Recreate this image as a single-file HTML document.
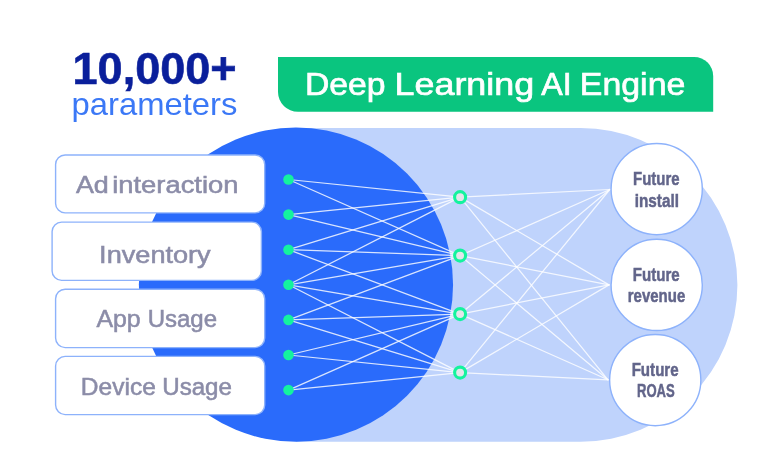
<!DOCTYPE html>
<html lang="en">
<head>
<meta charset="utf-8">
<title>Deep Learning AI Engine</title>
<style>
html,body{margin:0;padding:0;background:#fff;}
body{width:768px;height:473px;overflow:hidden;}
svg{display:block;will-change:transform;}
text{font-family:"Liberation Sans",sans-serif;}
.lbl{font-size:24.3px;fill:#8b8ca8;stroke:#8b8ca8;stroke-width:0.55px;}
.out{font-size:18.9px;font-weight:bold;fill:#62658a;stroke:#62658a;stroke-width:0.5px;}
</style>
</head>
<body>
<svg width="768" height="473" viewBox="0 0 768 473">
<rect width="768" height="473" fill="#ffffff"/>
<!-- light panel -->
<path d="M296 128.1 H580.55 A156.85 156.85 0 0 1 737.4 284.95 A156.85 156.85 0 0 1 580.55 441.8 H296 Z" fill="#bfd3fc"/>
<!-- big blue circle -->
<circle cx="295.95" cy="284.7" r="157.1" fill="#2a6bfb"/>
<!-- green banner -->
<path d="M278 57 H694.2 A19 19 0 0 1 713.2 76 V111.8 H298 A20 20 0 0 1 278 91.8 Z" fill="#0ac57f"/>
<text y="94.5" font-size="31.9" fill="#ffffff" stroke="#ffffff" stroke-width="0.7"><tspan x="305.02" textLength="80.62" lengthAdjust="spacingAndGlyphs">Deep</tspan> <tspan x="394.55" textLength="139.63" lengthAdjust="spacingAndGlyphs">Learning</tspan> <tspan x="541.29" textLength="30.4" lengthAdjust="spacingAndGlyphs">AI</tspan> <tspan x="579.87" textLength="105.46" lengthAdjust="spacingAndGlyphs">Engine</tspan></text>
<!-- heading -->
<text y="83.5" font-size="44.2" font-weight="bold" fill="#0a1f9b" stroke="#0a1f9b" stroke-width="0.6"><tspan x="72.53" textLength="164.12" lengthAdjust="spacingAndGlyphs">10,000+</tspan></text>
<text y="115" font-size="31.2" fill="#3b78f6"><tspan x="71.57" textLength="165.85" lengthAdjust="spacingAndGlyphs">parameters</tspan></text>
<!-- network lines -->
<g stroke="#ffffff" stroke-width="1.25" stroke-opacity="0.82" stroke-linecap="round">
<line x1="288.5" y1="179.5" x2="460.1" y2="197.15"/><line x1="288.5" y1="179.5" x2="460.1" y2="255.6"/><line x1="288.5" y1="214.6" x2="460.1" y2="197.15"/><line x1="288.5" y1="214.6" x2="460.1" y2="255.6"/><line x1="288.5" y1="249.7" x2="460.1" y2="197.15"/><line x1="288.5" y1="249.7" x2="460.1" y2="255.6"/><line x1="288.5" y1="249.7" x2="460.1" y2="314.1"/><line x1="288.5" y1="284.8" x2="460.1" y2="197.15"/><line x1="288.5" y1="284.8" x2="460.1" y2="255.6"/><line x1="288.5" y1="284.8" x2="460.1" y2="314.1"/><line x1="288.5" y1="284.8" x2="460.1" y2="372.6"/><line x1="288.5" y1="319.9" x2="460.1" y2="255.6"/><line x1="288.5" y1="319.9" x2="460.1" y2="314.1"/><line x1="288.5" y1="319.9" x2="460.1" y2="372.6"/><line x1="288.5" y1="355.0" x2="460.1" y2="314.1"/><line x1="288.5" y1="355.0" x2="460.1" y2="372.6"/><line x1="288.5" y1="390.1" x2="460.1" y2="314.1"/><line x1="288.5" y1="390.1" x2="460.1" y2="372.6"/>
</g>
<g stroke="#ffffff" stroke-width="1.25" stroke-opacity="0.8" stroke-linecap="round">
<line x1="460.1" y1="197.15" x2="609.8" y2="189.5"/><line x1="460.1" y1="197.15" x2="609.0" y2="284.9"/><line x1="460.1" y1="197.15" x2="608.0" y2="379.8"/><line x1="460.1" y1="255.6" x2="609.8" y2="189.5"/><line x1="460.1" y1="255.6" x2="609.0" y2="284.9"/><line x1="460.1" y1="255.6" x2="608.0" y2="379.8"/><line x1="460.1" y1="314.1" x2="609.8" y2="189.5"/><line x1="460.1" y1="314.1" x2="609.0" y2="284.9"/><line x1="460.1" y1="314.1" x2="608.0" y2="379.8"/><line x1="460.1" y1="372.6" x2="609.8" y2="189.5"/><line x1="460.1" y1="372.6" x2="609.0" y2="284.9"/><line x1="460.1" y1="372.6" x2="608.0" y2="379.8"/>
</g>
<g fill="#14f39e"><circle cx="288.5" cy="179.5" r="5.3"/><circle cx="288.5" cy="214.6" r="5.3"/><circle cx="288.5" cy="249.7" r="5.3"/><circle cx="288.5" cy="284.8" r="5.3"/><circle cx="288.5" cy="319.9" r="5.3"/><circle cx="288.5" cy="355.0" r="5.3"/><circle cx="288.5" cy="390.1" r="5.3"/></g>
<g fill="#e3e6ea" stroke="#14f39e" stroke-width="3.1"><circle cx="460.1" cy="197.15" r="5.5"/><circle cx="460.1" cy="255.6" r="5.5"/><circle cx="460.1" cy="314.1" r="5.5"/><circle cx="460.1" cy="372.6" r="5.5"/></g>
<!-- label boxes -->
<g fill="#ffffff" stroke="#8db2fb" stroke-width="1.4">
<rect x="55.6" y="155" width="209.1" height="57.9" rx="9.5"/>
<rect x="52.1" y="222.1" width="209.3" height="58.3" rx="9.5"/>
<rect x="55.6" y="289.3" width="209.1" height="58.3" rx="9.5"/>
<rect x="55.6" y="356.4" width="209.1" height="58.2" rx="9.5"/>
</g>
<text y="192.5" class="lbl"><tspan x="75.93" textLength="32.86" lengthAdjust="spacingAndGlyphs">Ad</tspan> <tspan x="112.23" textLength="126.26" lengthAdjust="spacingAndGlyphs">interaction</tspan></text>
<text y="262.5" class="lbl"><tspan x="99.12" textLength="111.59" lengthAdjust="spacingAndGlyphs">Inventory</tspan></text>
<text y="326.6" class="lbl"><tspan x="96.46" textLength="44.24" lengthAdjust="spacingAndGlyphs">App</tspan> <tspan x="147.65" textLength="69.42" lengthAdjust="spacingAndGlyphs">Usage</tspan></text>
<text y="395.3" class="lbl"><tspan x="80.89" textLength="74.93" lengthAdjust="spacingAndGlyphs">Device</tspan> <tspan x="162.21" textLength="69.76" lengthAdjust="spacingAndGlyphs">Usage</tspan></text>
<!-- output circles -->
<g fill="#ffffff" stroke="#8db2fb" stroke-width="1.4">
<circle cx="656.7" cy="189.1" r="45.6"/>
<circle cx="656.7" cy="284.9" r="45.6"/>
<circle cx="655.25" cy="380.1" r="45.6"/>
</g>
<text class="out"><tspan x="633.07" y="185" textLength="46.51" lengthAdjust="spacingAndGlyphs">Future</tspan> <tspan x="634.72" y="207" textLength="44.2" lengthAdjust="spacingAndGlyphs">install</tspan></text>
<text class="out"><tspan x="632.81" y="280.7" textLength="46.92" lengthAdjust="spacingAndGlyphs">Future</tspan> <tspan x="627.8" y="302.4" textLength="57.43" lengthAdjust="spacingAndGlyphs">revenue</tspan></text>
<text class="out"><tspan x="631.65" y="375.7" textLength="47.01" lengthAdjust="spacingAndGlyphs">Future</tspan> <tspan x="636.97" y="397.3" textLength="37.68" lengthAdjust="spacingAndGlyphs">ROAS</tspan></text>
</svg>
</body>
</html>
